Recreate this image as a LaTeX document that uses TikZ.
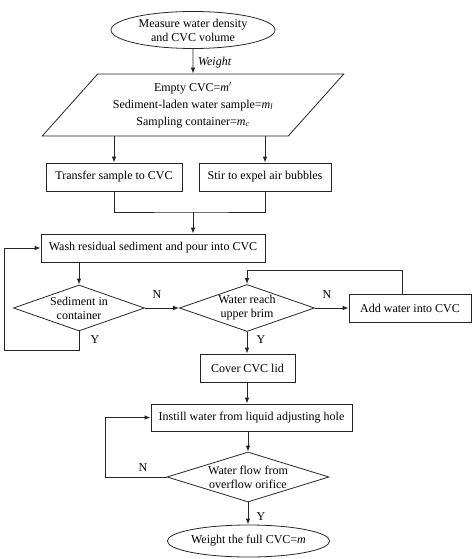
\documentclass[tikz,border=0pt]{standalone}
\usepackage{fontspec}
\setmainfont{Liberation Serif}
\usetikzlibrary{shapes.geometric,arrows.meta}

\tikzset{
  every node/.style={font=\fontsize{12}{16}\selectfont},
  flowline/.style={line width=0.8pt, draw=black!85},
  arrowline/.style={flowline, -{Latex[length=6pt,width=4.5pt]}},
  stepbox/.style={rectangle, draw=black!85, line width=0.8pt, minimum height=28pt, inner sep=3pt},
  terminal/.style={ellipse, draw=black!85, line width=0.8pt, inner sep=0pt, align=center},
  decision/.style={diamond, draw=black!85, line width=0.8pt, inner sep=0pt},
  iodata/.style={trapezium, trapezium left angle=47, trapezium right angle=133, trapezium stretches=true, draw=black!85, line width=0.8pt, align=center},
  tag/.style={inner sep=1pt}
}

\begin{document}
\begin{tikzpicture}[x=1pt,y=1pt,yscale=-1,xscale=1]
    \useasboundingbox (0,0) rectangle (474,559);

    % Start
    \node[terminal, minimum width=164pt, minimum height=37pt] (start) at (193,30) {Measure water density\\[-2pt]and CVC volume};
    % Data
    \node[iodata, minimum width=302pt, minimum height=62pt] (data) at (193,105) {Empty CVC=\textit{m}$'$\\[1pt]Sediment-laden water sample=\textit{m}\textsubscript{\textit{l}}\\[1pt]Sampling container=\textit{m}\textsubscript{\textit{c}}};
    % Steps
    \node[stepbox, minimum width=136pt] (transfer) at (114,177) {Transfer sample to CVC};
    \node[stepbox, minimum width=132pt] (stir) at (265,177) {Stir to expel air bubbles};
    \node[stepbox, minimum width=224pt] (wash) at (153,248) {Wash residual sediment and pour into CVC};
    % Decisions
    \node[decision, minimum width=131pt, minimum height=46pt, label={[align=center]center:Sediment in\\[-2pt]container}] (sedin) at (79,308) {};
    \node[decision, minimum width=135pt, minimum height=47pt, label={[align=center]center:Water reach\\[-2pt]upper brim}] (brim) at (247,308) {};
    \node[stepbox, minimum width=122pt] (addwater) at (410,308) {Add water into CVC};
    \node[stepbox, minimum width=95pt] (lid) at (247.5,368) {Cover CVC lid};
    \node[stepbox, minimum width=201pt, minimum height=27pt] (instill) at (251.5,417.5) {Instill water from liquid adjusting hole};
    \node[decision, minimum width=162pt, minimum height=50pt, label={[align=center]center:Water flow from\\[-2pt]overflow orifice}] (overflow) at (248,477) {};
    % End
    \node[terminal, minimum width=143pt, minimum height=32pt] (full) at (248.5,541) {Weight the full CVC=\textit{m}};

    % Helper points
    \coordinate (join) at (193,212);
    \coordinate (loopY) at (4,350);
    \coordinate (back) at (402,270);
    \coordinate (loopN) at (105,477);

    % Connections
    \draw[arrowline] (start.south) -- (data.north);
    \draw[arrowline] (transfer.north |- data.south) -- (transfer.north);
    \draw[arrowline] (stir.north |- data.south) -- (stir.north);
    \draw[flowline] (transfer.south) |- (join) -| (stir.south);
    \draw[arrowline] (join) -- (join |- wash.north);
    \draw[arrowline] (sedin.north |- wash.south) -- (sedin.north);
    \draw[arrowline] (sedin.south) |- (loopY) |- (wash.west);
    \draw[arrowline] (sedin.east) -- (brim.west);
    \draw[arrowline] (brim.east) -- (addwater.west);
    \draw[arrowline] (back |- addwater.north) -- (back) -| (brim.north);
    \draw[arrowline] (brim.south) -- (lid.north -| brim.south);
    \draw[arrowline] (lid.south -| brim.south) -- (instill.north -| brim.south);
    \draw[arrowline] (instill.south -| overflow.north) -- (overflow.north);
    \draw[flowline] (overflow.west) -- (loopN);
    \draw[arrowline] (loopN) |- (instill.west);
    \draw[arrowline] (overflow.south) -- (full.north -| overflow.south);

    % Labels
    \node[tag, anchor=west, font=\fontsize{12}{14}\selectfont\itshape] (weightlbl) at (197,63) {Weight};
    \node[tag] (n1) at (157,295) {N};
    \node[tag] (y1) at (95,340) {Y};
    \node[tag] (n2) at (327,295) {N};
    \node[tag] (y2) at (261,340) {Y};
    \node[tag] (n3) at (143,468) {N};
    \node[tag] (y3) at (261,517) {Y};

\end{tikzpicture}
\end{document}
